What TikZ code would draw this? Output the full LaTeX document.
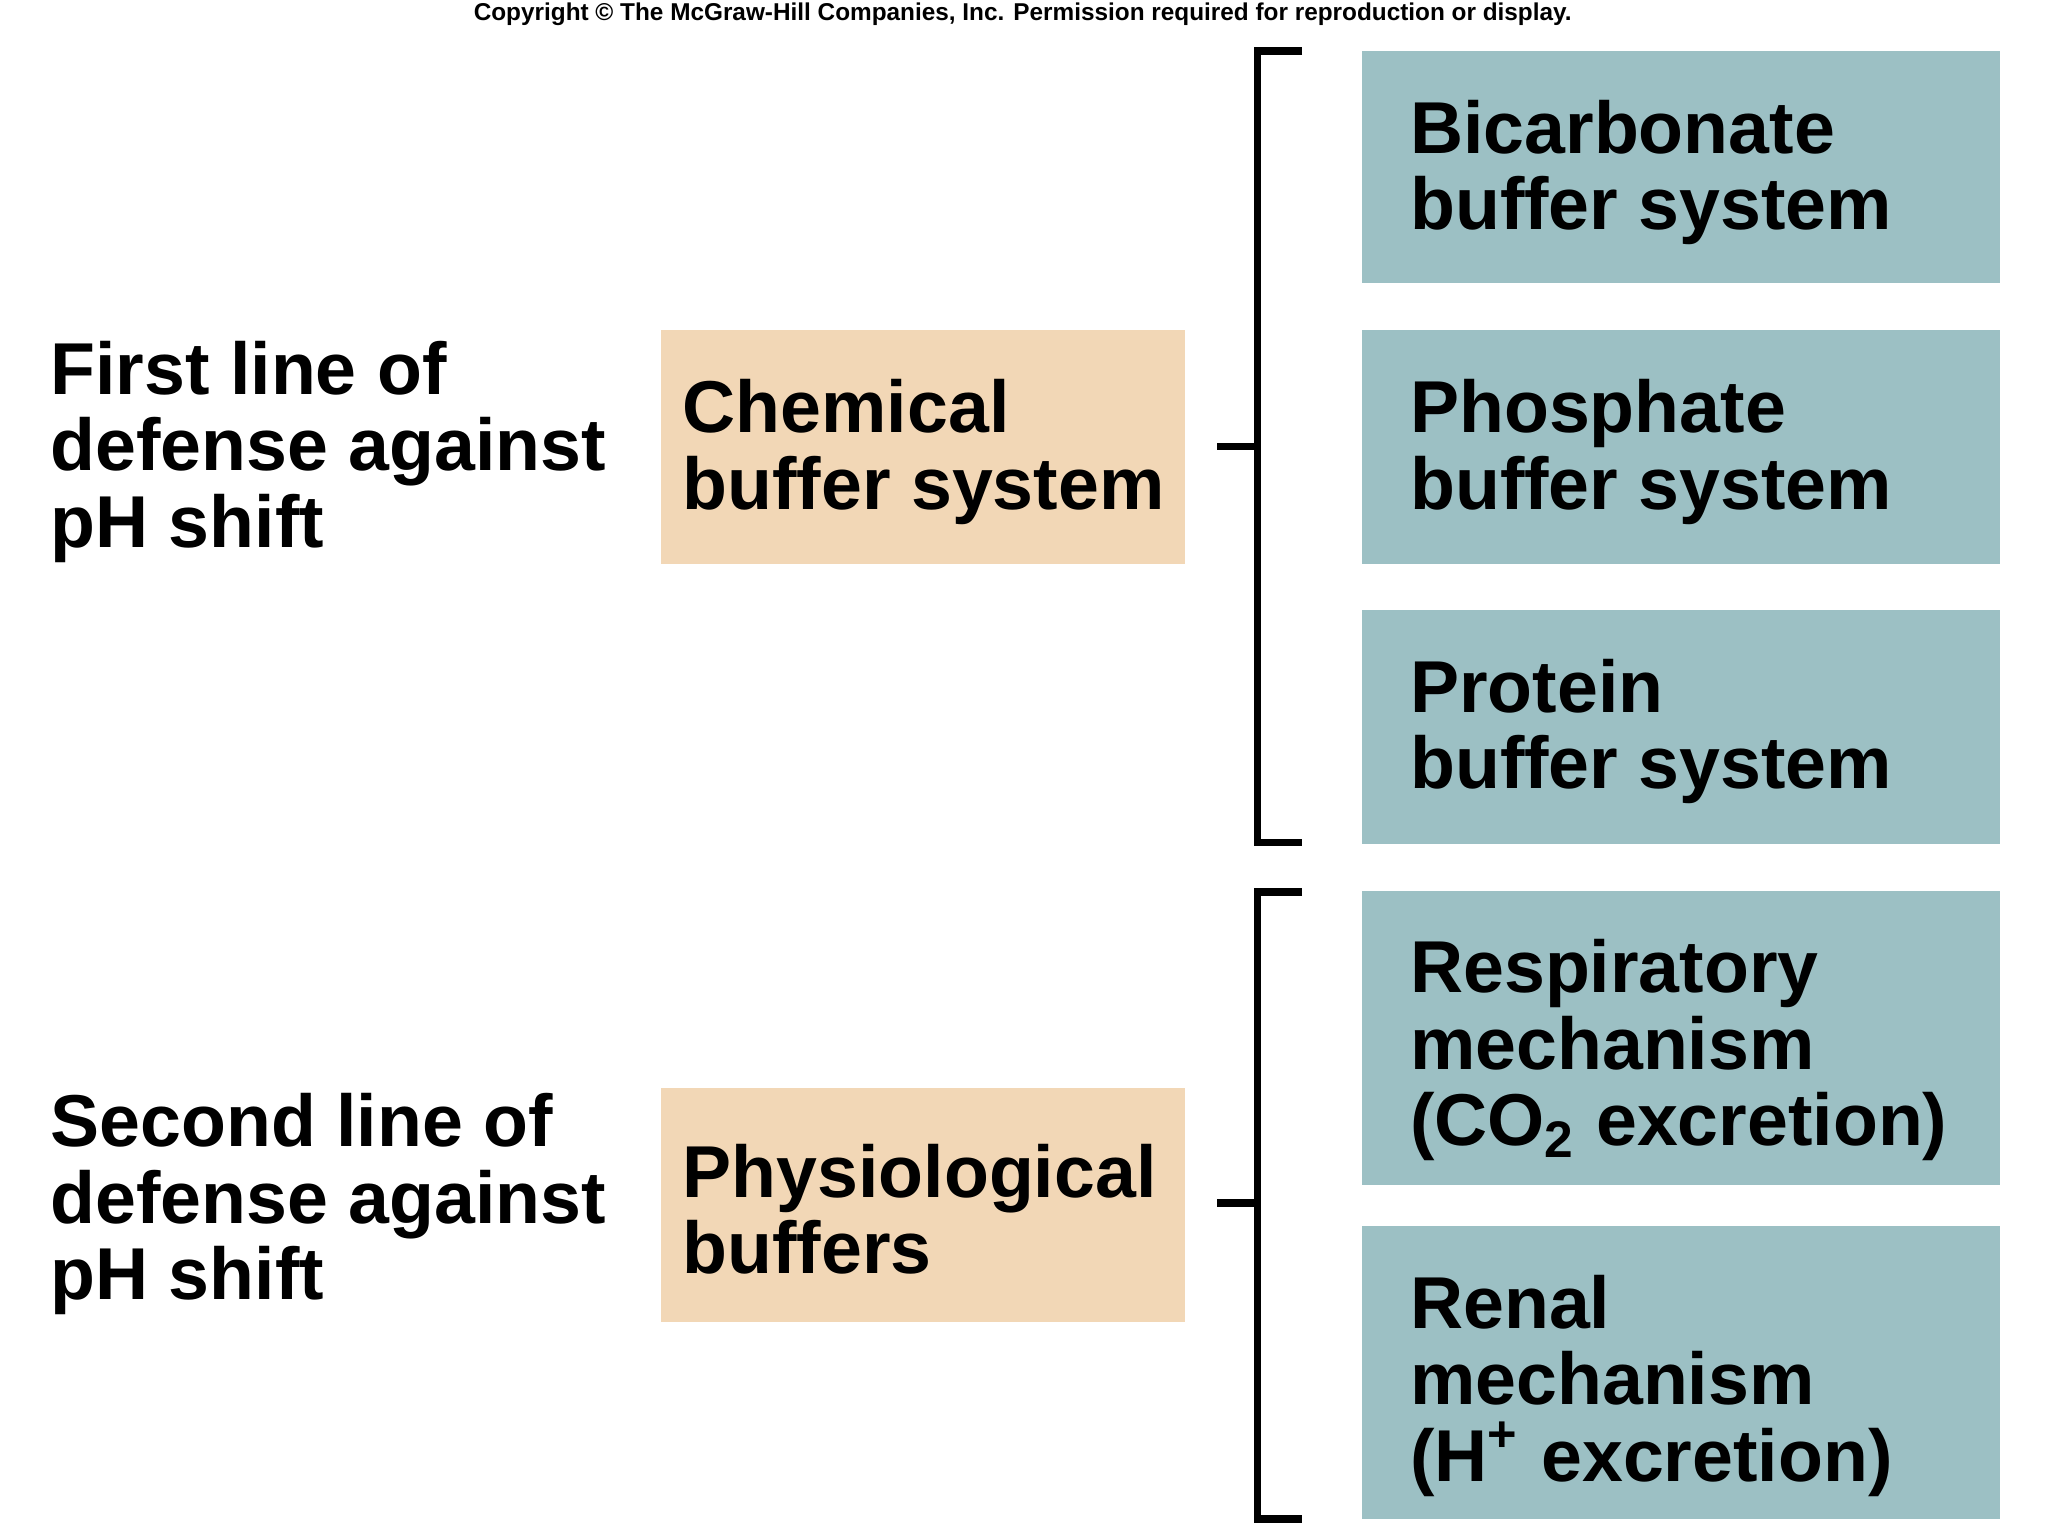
\documentclass[tikz,border=0pt]{standalone}
\usepackage{fontspec}
\setmainfont{Liberation Sans}
\definecolor{tan}{HTML}{F2D7B6}
\definecolor{teal}{HTML}{9CC0C4}
\begin{document}
\begin{tikzpicture}[x=0.01cm,y=-0.01cm,
  box/.style={inner sep=0pt, outer sep=0pt},
  txt/.style={font=\bfseries\fontsize{16}{16.6}\selectfont, align=left, anchor=west, inner sep=0pt},
  br/.style={line width=1.6pt}]
\useasboundingbox (0,0) rectangle (1568,1176);
\node[font=\bfseries\fontsize{5.3}{6}\selectfont, inner sep=0pt] (copy) at (783,11) {Copyright \textcopyright{} The McGraw-Hill Companies, Inc. Permission required for reproduction or display.};
% boxes
\fill[tan] (506,253) rectangle (907,432); \node[txt] (chem) at (522,346) {Chemical\\buffer system};
\fill[tan] (506,833) rectangle (907,1012); \node[txt] (phys) at (522,926) {Physiological\\buffers};
\fill[teal] (1043,39) rectangle (1531,217); \node[txt] (bic) at (1079,132) {Bicarbonate\\buffer system};
\fill[teal] (1043,253) rectangle (1531,432); \node[txt] (pho) at (1079,346) {Phosphate\\buffer system};
\fill[teal] (1043,467) rectangle (1531,646); \node[txt] (pro) at (1079,560) {Protein\\buffer system};
\fill[teal] (1043,682) rectangle (1531,907); \node[txt] (res) at (1079,804) {Respiratory\\mechanism\\(CO\textsubscript{2} excretion)};
\fill[teal] (1043,939) rectangle (1531,1163); \node[txt] (ren) at (1079,1061) {Renal\\mechanism\\(H\raisebox{0.75ex}{\fontsize{11}{11}\selectfont +}\hspace{0.05em} excretion)};
% left labels
\node[txt] (first) at (38,346) {First line of\\defense against\\pH shift};
\node[txt] (second) at (38,922) {Second line of\\defense against\\pH shift};
% brackets
\coordinate (t1) at (932,342); \coordinate (t2) at (932,921);
\draw[br] (997,39) -| (963,645) -- (997,645);
\draw[br] (t1) -- (963,342);
\draw[br] (997,683) -| (963,1163) -- (997,1163);
\draw[br] (t2) -- (963,921);
\end{tikzpicture}
\end{document}
